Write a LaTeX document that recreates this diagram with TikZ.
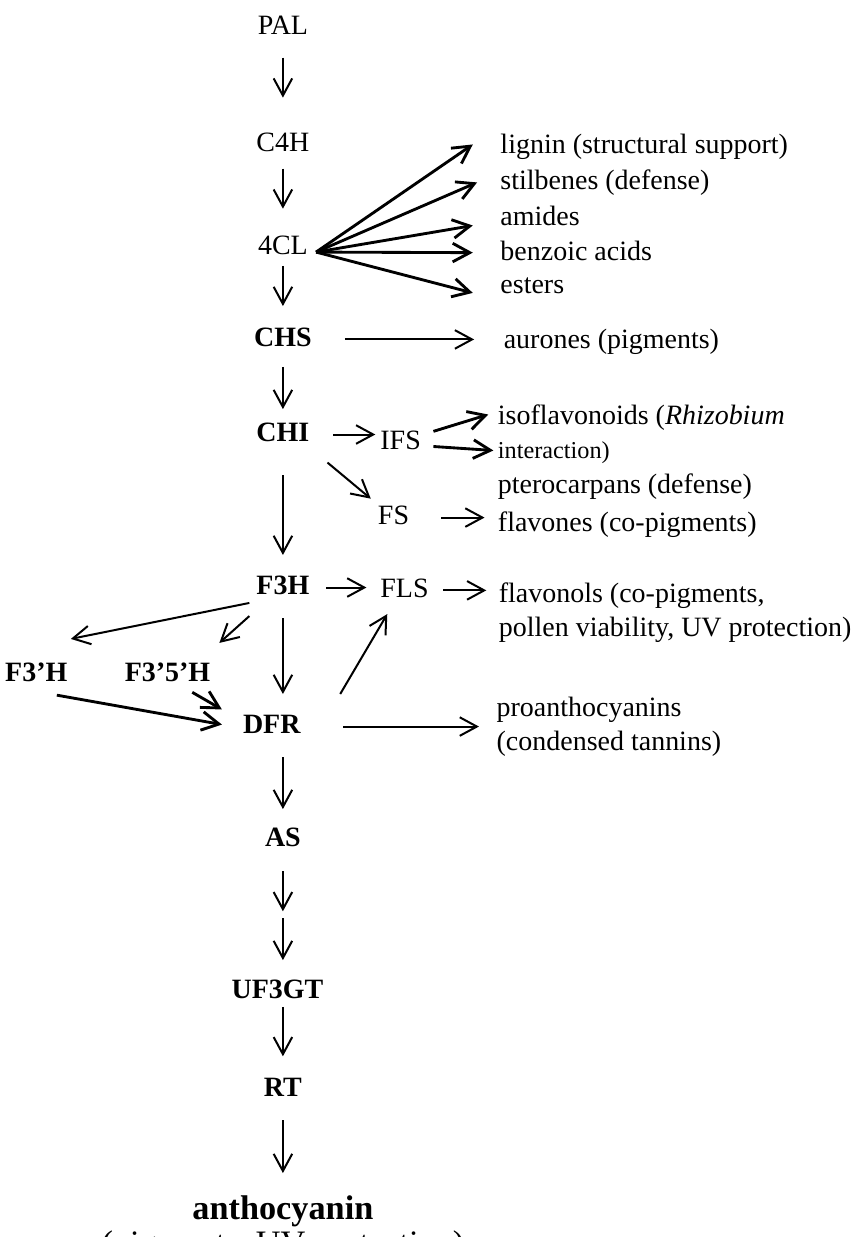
\documentclass[tikz,border=0pt]{standalone}
\usepackage{fontspec}
\setmainfont{Liberation Serif}
\usetikzlibrary{positioning, arrows.meta}
\newcommand{\labelsize}{\fontsize{9.8}{11.9}\selectfont}

\begin{document}
\begin{tikzpicture}[
        enzyme/.style={inner sep=0pt, text height=7pt, text depth=2pt, font=\labelsize\bfseries},
        enzymen/.style={enzyme, font=\labelsize},
        product/.style={inner sep=0pt, align=left, font=\labelsize},
        react/.style={-{Straight Barb[length=6pt, width=6.5pt]}, line width=0.7pt},
        branch/.style={react, line width=1pt},
    ]
        \useasboundingbox (0,0) rectangle (298.8pt,-433.3pt);
        \clip (0,0) rectangle (298.8pt,-433.3pt);

        % main pathway
        \node[enzymen] (PAL) at (99.1pt,-9.5pt) {PAL};
        \node[enzymen, below=31.6pt of PAL] (C4H) {C4H};
        \node[enzymen, below=26.7pt of C4H] (CL4) {4CL};
        \node[enzyme, below=22.9pt of CL4] (CHS) {CHS};
        \node[enzyme, below=23.9pt of CHS] (CHI) {CHI};
        \node[enzyme, below=44.2pt of CHI] (F3H) {F3H};
        \node[enzyme, below=39.3pt of F3H, xshift=-3.9pt] (DFR) {DFR};
        \node[enzyme, below=30.2pt of DFR, xshift=3.9pt] (AS) {AS};
        \coordinate[below=21.4pt of AS] (mid);
        \node[enzyme, below=22.4pt of mid, xshift=-1.9pt] (UF3GT) {UF3GT};
        \node[enzyme, below=25pt of UF3GT, xshift=1.9pt] (RT) {RT};
        \node[inner sep=0pt, font=\fontsize{12}{14}\selectfont\bfseries, below=32.2pt of RT] (ANTH) {anthocyanin};
        \node[inner sep=0pt, font=\fontsize{12}{14}\selectfont, below=1pt of ANTH] (ANTHN) {(pigments, UV protection)};

        % side enzymes
        \node[enzymen, right=24.5pt of CHI, yshift=-2.8pt] (IFS) {IFS};
        \node[enzymen, below=16.9pt of IFS, xshift=-2.5pt] (FS) {FS};
        \node[enzymen, right=24.5pt of F3H, yshift=-1pt] (FLS) {FLS};
        \node[enzyme, below left=21.1pt and 15.8pt of F3H] (F35H) {F3'5'H};
        \node[enzyme, left=19.7pt of F35H] (F3pH) {F3'H};

        % products
        \node[product, right=67.1pt of CL4, yshift=35pt] (LIG) {lignin (structural support)};
        \node[product, below=12.3pt of LIG.west, anchor=west] (STIL) {stilbenes (defense)};
        \node[product, below=11.6pt of STIL.west, anchor=west] (AMID) {amides};
        \node[product, below=12.3pt of AMID.west, anchor=west] (BENZ) {benzoic acids};
        \node[product, below=12.3pt of BENZ.west, anchor=west] (EST) {esters};
        \node[product, right=66.9pt of CHS, yshift=-1pt] (AUR) {aurones (pigments)};
        \node[product, right=26.6pt of IFS, yshift=2.8pt] (ISO) {isoflavonoids (\textit{Rhizobium}\\{\fontsize{8.5}{11.9}\selectfont interaction)}};
        \node[product, below=18.2pt of ISO.west, anchor=west] (PTER) {pterocarpans (defense)};
        \node[product, below=13.3pt of PTER.west, anchor=west] (FLAV) {flavones (co-pigments)};
        \node[product, right=24.2pt of FLS, yshift=-7.7pt] (FLAVOL) {flavonols (co-pigments,\\pollen viability, UV protection)};
        \node[product, right=68.3pt of DFR] (PROA) {proanthocyanins\\(condensed tannins)};

        % main arrows
        \draw[react, shorten <=6pt, shorten >=11.6pt] (PAL) -- (C4H);
        \draw[react, shorten <=3.9pt, shorten >=8.8pt] (C4H) -- (CL4);
        \draw[react, shorten <=1.8pt, shorten >=7pt] (CL4) -- (CHS);
        \draw[react, shorten <=4.9pt, shorten >=4.2pt] (CHS) -- (CHI);
        \draw[react, shorten <=9.5pt, shorten >=6.7pt] (CHI) -- (F3H);
        \draw[react, shorten <=6pt, shorten >=6.7pt] (F3H.south) -- (F3H.south |- DFR.north);
        \draw[react, shorten <=6pt, shorten >=6pt] (AS.north |- DFR.south) -- (AS);
        \draw[react, shorten <=6.3pt, shorten >=1pt] (AS) -- (mid);
        \draw[react, shorten <=1.4pt, shorten >=6.3pt] (mid) -- (mid |- UF3GT.north);
        \draw[react, shorten <=0.7pt, shorten >=7pt] (RT.north |- UF3GT.south) -- (RT);
        \draw[react, shorten <=6pt, shorten >=7.7pt] (RT) -- (ANTH);

        % 4CL branches
        \coordinate (fan) at ([xshift=2.7pt, yshift=-1.7pt]CL4.east);
        \draw[branch] (fan) -- ([xshift=-9.5pt, yshift=1pt]LIG.west);
        \draw[branch] (fan) -- ([xshift=-8pt]STIL.west);
        \draw[branch] (fan) -- ([xshift=-9.5pt, yshift=-3.5pt]AMID.west);
        \draw[branch] (fan) -- ([xshift=-9.5pt, yshift=-0.7pt]BENZ.west);
        \draw[branch] (fan) -- ([xshift=-9.5pt, yshift=-2.5pt]EST.west);

        % side arrows
        \draw[react, shorten <=11.4pt, shorten >=10.2pt] (CHS.east) -- (CHS.east -| AUR.west);
        \draw[react, shorten <=8.2pt, shorten >=1.6pt] (CHI.east) -- (CHI.east -| IFS.west);
        \draw[branch] ([xshift=4.2pt, yshift=3.9pt]IFS.east) -- ([xshift=-3.2pt, yshift=7pt]ISO.west);
        \draw[branch] ([xshift=4.2pt, yshift=-1.4pt]IFS.east) -- ([xshift=-1.4pt, yshift=-5.6pt]ISO.west);
        \draw[react, shorten <=8pt, shorten >=3pt] (CHI.south east) -- (FS.north west);
        \draw[react, shorten <=11pt, shorten >=4.5pt] (FS.east) -- (FS.east -| FLAV.west);
        \draw[react, shorten <=5.8pt, shorten >=4.7pt] (F3H.east) -- (F3H.east -| FLS.west);
        \draw[react, shorten <=4.9pt, shorten >=4.2pt] (FLS.east) -- (FLS.east -| FLAVOL.west);
        \draw[react] ([xshift=-2.3pt, yshift=-0.7pt]F3H.south west) -- ([xshift=1pt, yshift=7.8pt]F3pH.north east);
        \draw[react] ([xshift=-2.3pt, yshift=-5.3pt]F3H.south west) -- ([xshift=3pt, yshift=6.4pt]F35H.north east);
        \draw[branch] ([xshift=-3.9pt, yshift=-2.5pt]F3pH.south east) -- ([xshift=-7.2pt, yshift=0.7pt]DFR.west);
        \draw[branch] ([xshift=-6.5pt, yshift=-1.5pt]F35H.south east) -- ([xshift=-7.2pt, yshift=6pt]DFR.west);
        \draw[react] ([xshift=13.7pt, yshift=6.7pt]DFR.north east) -- ([xshift=2.6pt, yshift=-3.6pt]FLS.south west);
        \draw[react, shorten <=14.8pt, shorten >=6pt] (DFR.east) -- (DFR.east -| PROA.west);
    \end{tikzpicture}
\end{document}
